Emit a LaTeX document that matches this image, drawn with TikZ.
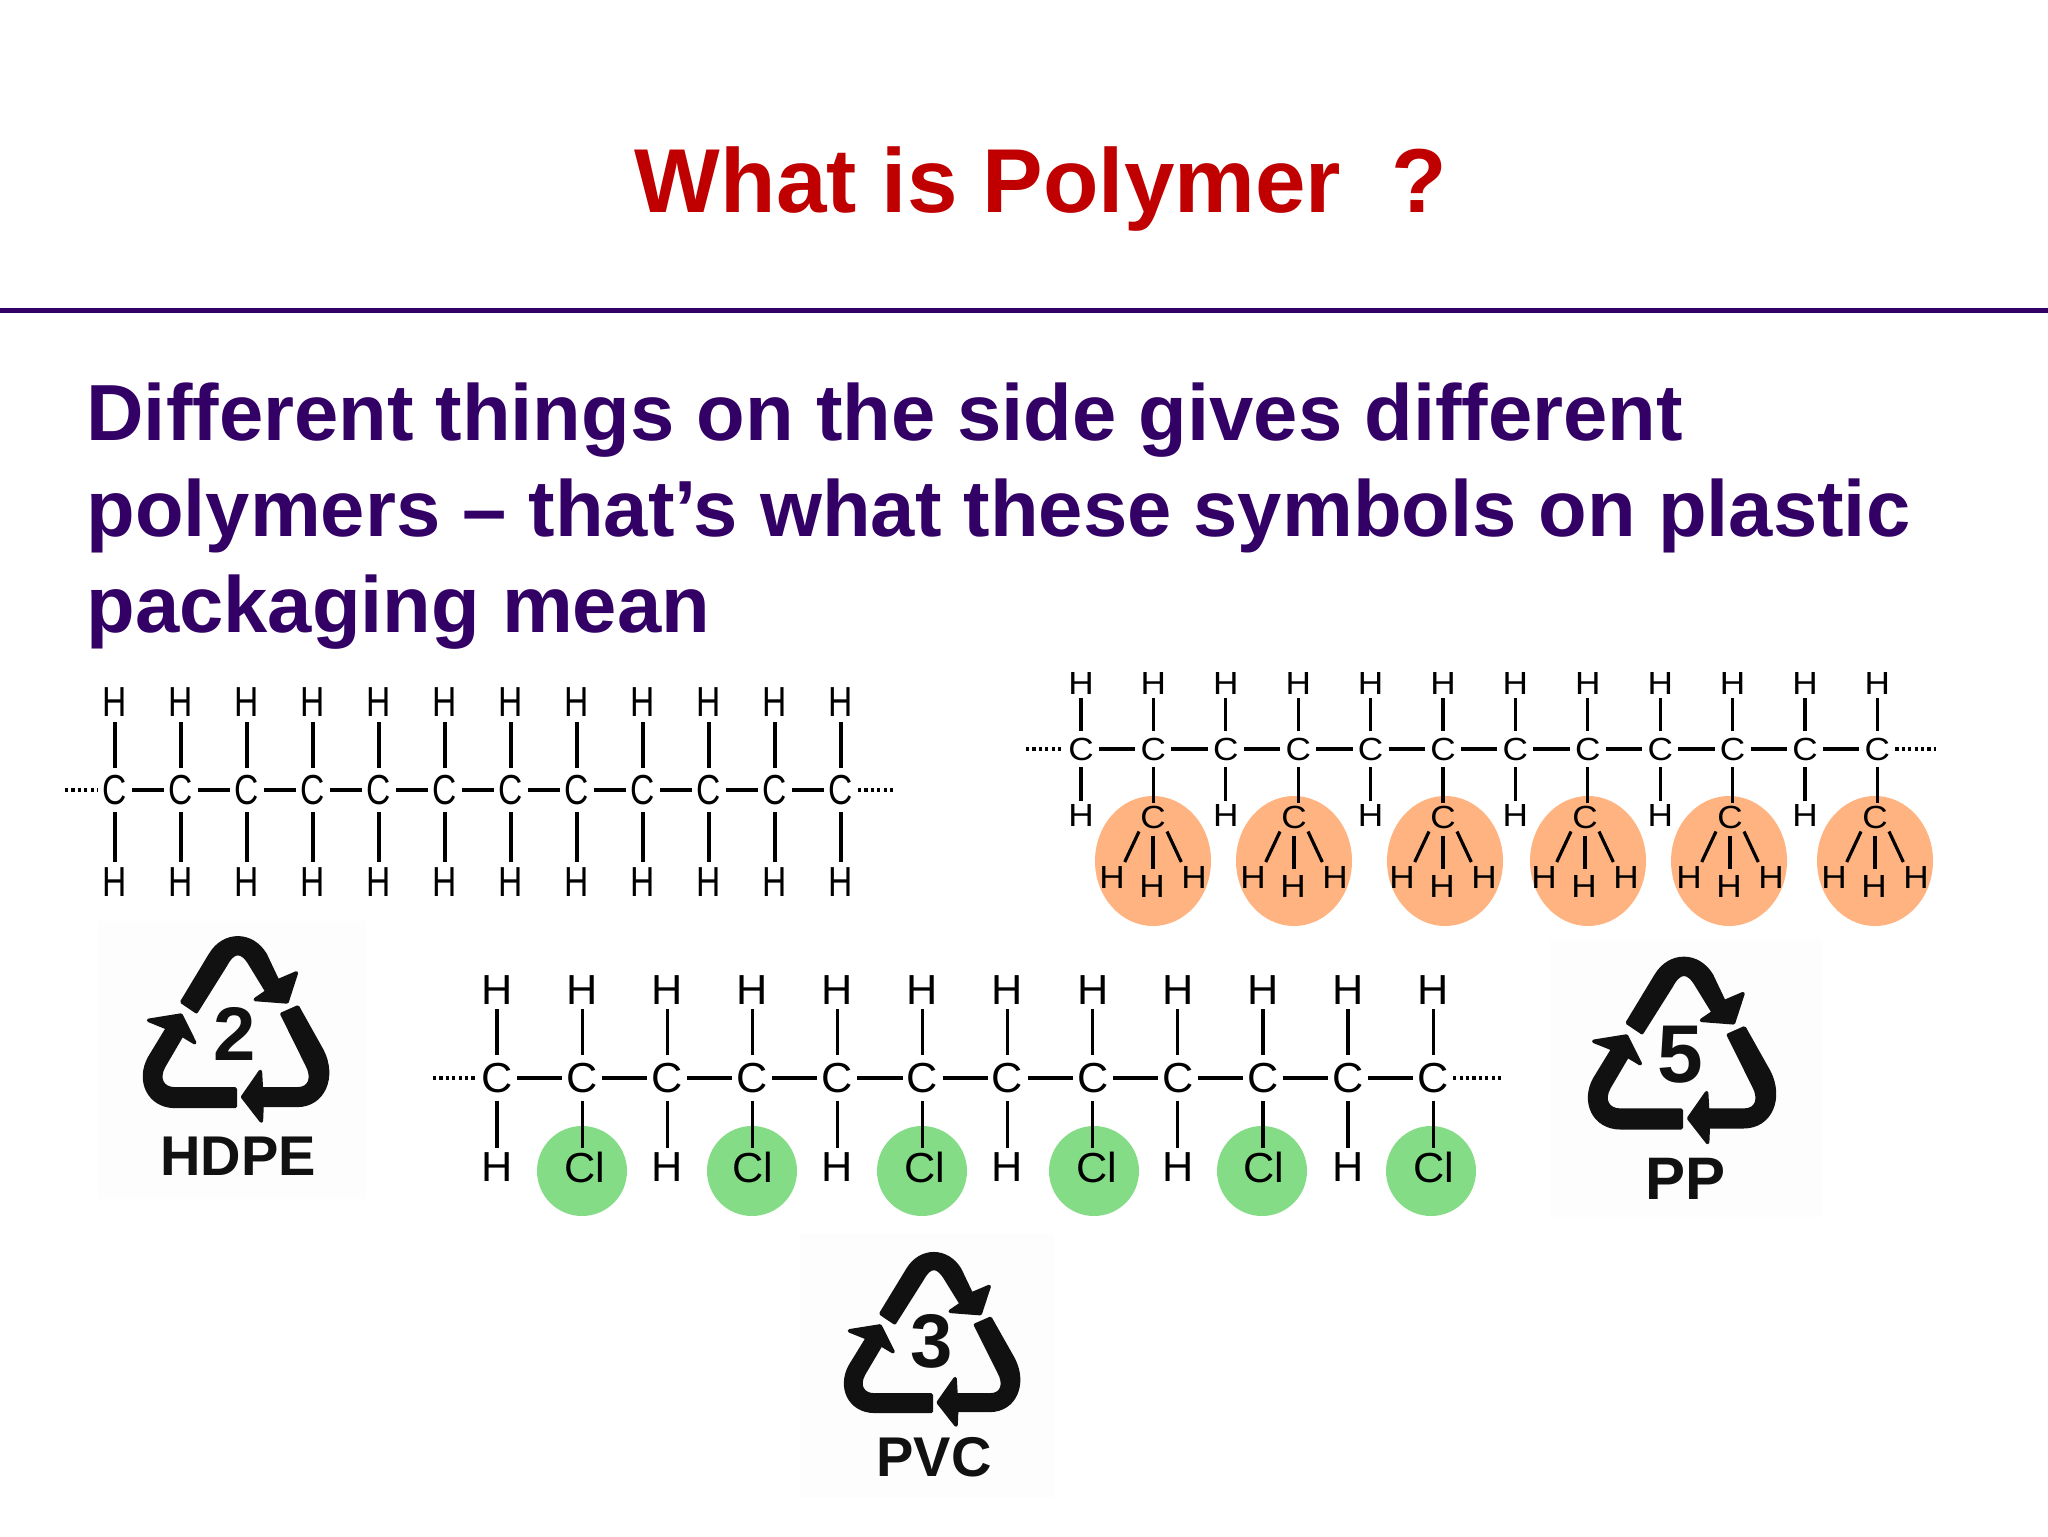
\documentclass[tikz,border=0pt]{standalone}
\usepackage{fontspec}
\setmainfont{Liberation Sans}
\newfontfamily\chemA[FakeStretch=0.80]{Liberation Sans}
\newfontfamily\chemB[FakeStretch=1.10]{Liberation Sans}
\newfontfamily\chemC[FakeStretch=1.03]{Liberation Sans}
\usetikzlibrary{shapes.geometric}
\definecolor{titlered}{HTML}{C00000}
\definecolor{deeppurple}{HTML}{330066}
\definecolor{methylorange}{HTML}{FFB380}
\definecolor{chlorgreen}{HTML}{85DC87}
\definecolor{ink}{HTML}{111111}
\definecolor{paperbox}{HTML}{FDFDFD}
\tikzset{
  titletext/.style={font=\bfseries\fontsize{45.4}{54}\selectfont,text=titlered,inner sep=0pt},
  bodytext/.style={font=\bfseries\fontsize{39.8}{48}\selectfont,text=deeppurple,inner sep=0pt,anchor=base west},
  atom/.style={inner sep=0pt,outer sep=0pt,text=black},
  cA/.style={atom,font=\chemA\fontsize{21}{21}\selectfont,minimum width=17pt,minimum height=22pt},
  hA/.style={atom,font=\chemA\fontsize{21}{21}\selectfont,minimum height=20pt},
  cB/.style={atom,font=\chemB\fontsize{16}{16}\selectfont,minimum width=18pt,minimum height=18pt},
  hB/.style={atom,font=\chemB\fontsize{16}{16}\selectfont,minimum height=14.5pt},
  mC/.style={atom,font=\chemB\fontsize{16}{16}\selectfont,minimum width=14pt,minimum height=14.5pt},
  mH/.style={atom,font=\chemB\fontsize{16}{16}\selectfont,minimum width=8pt,minimum height=15pt},
  cC/.style={atom,font=\chemC\fontsize{21}{21}\selectfont,minimum width=20pt,minimum height=23pt},
  hC/.style={atom,font=\chemC\fontsize{21}{21}\selectfont,minimum height=19pt},
  bond/.style={draw=black,line width=1.6pt},
  dots/.style={draw=black,line width=1.6pt,dash pattern=on 1.6pt off 1.6pt},
  orangeblob/.style={ellipse,fill=methylorange,inner sep=0pt,minimum width=58pt,minimum height=65pt},
  greenblob/.style={circle,fill=chlorgreen,inner sep=0pt,minimum size=45pt},
  arrowshape/.style={fill=ink,draw=ink,line width=1.8pt,line join=round},
  digit/.style={font=\bfseries\fontsize{38}{38}\selectfont,text=ink,inner sep=0pt},
  codelabel/.style={font=\bfseries\fontsize{28}{28}\selectfont,text=ink,inner sep=0pt},
}
\newcommand{\recycling}[4]{%
  \begin{scope}[shift={(#1,#2)},x=#3*0.16667pt,y=-#4*0.16667pt,shift={(-530,-1040)}]
    \path[arrowshape] (365,965) -- (450,830) .. controls (490,765) and (575,765) .. (615,830) -- (652,905)
      -- (708,882) -- (680,965) -- (585,958) -- (620,935) -- (572,860)
      .. controls (545,815) and (520,815) .. (495,860) -- (408,993) -- cycle;
    \path[arrowshape] (265,1018) -- (362,1003) -- (403,1082) -- (365,1060) -- (310,1150)
      .. controls (290,1185) and (305,1215) .. (345,1215) -- (525,1215) -- (525,1265) -- (345,1265)
      .. controls (265,1265) and (230,1190) .. (268,1125) -- (322,1040) -- cycle;
    \path[arrowshape] (712,980) -- (785,1105) .. controls (825,1180) and (790,1262) .. (710,1262)
      -- (605,1262) -- (603,1307) -- (547,1238) -- (600,1165) -- (603,1215) -- (710,1215)
      .. controls (752,1215) and (760,1180) .. (740,1145) -- (665,1000) -- cycle;
  \end{scope}}
\begin{document}
\begin{tikzpicture}[x=0.5pt,y=-0.5pt]
\useasboundingbox (0,0) rectangle (2048,1536);
\fill[white] (0,0) rectangle (2048,1536);

% headings
\node[titletext] (title) at (1041,189) {What is Polymer\ \ ?};
\coordinate (ruleL) at (0,310);
\coordinate (ruleR) at (2048,310);
\draw[deeppurple,line width=2.5pt] (ruleL) -- (ruleR);
\node[bodytext] (line1) at (86,440) {Different things on the side gives different};
\node[bodytext] (line2) at (86,536) {polymers – that’s what these symbols on plastic};
\node[bodytext] (line3) at (86,632) {packaging mean};

% symbol backgrounds
\fill[paperbox] (98,921) rectangle (366,1199);
\fill[paperbox] (1550,940) rectangle (1822,1217);
\fill[paperbox] (800,1234) rectangle (1054,1498);

% chain A: polyethylene
\foreach \i in {1,...,12}{
  \pgfmathsetmacro{\xx}{115+66*(\i-1)}
  \node[cA] (a\i) at (\xx,790) {C};
  \node[hA] (at\i) at (\xx,702) {H};
  \node[hA] (ab\i) at (\xx,882) {H};
  \draw[bond] (a\i.north) -- (at\i.south);
  \draw[bond] (a\i.south) -- (ab\i.north);
}
\foreach \i [remember=\i as \j (initially 1)] in {2,...,12}{
  \draw[bond] (a\j.east) -- (a\i.west);
}
\coordinate (aL) at (65,790);
\coordinate (aR) at (896,790);
\draw[dots] (aL) -- (a1.west);
\draw[dots] (a12.east) -- (aR);

% chain B: polypropylene
\foreach \xe/\n in {1153/1,1294/2,1445/3,1588/4,1729/5,1875/6}{
  \node[orangeblob] (blob\n) at (\xe,861) {};
}
\foreach \i in {1,...,12}{
  \pgfmathsetmacro{\xx}{1081+72.4*(\i-1)}
  \node[cB] (b\i) at (\xx,749) {C};
  \node[hB] (bt\i) at (\xx,683) {H};
  \draw[bond] (b\i.north) -- (bt\i.south);
}
\foreach \i in {1,3,5,7,9,11}{
  \pgfmathsetmacro{\xx}{1081+72.4*(\i-1)}
  \node[hB] (bb\i) at (\xx,815) {H};
  \draw[bond] (b\i.south) -- (bb\i.north);
}
\foreach \i/\xm in {2/1153,4/1294,6/1443,8/1585,10/1730,12/1875}{
  \node[mC] (m\i) at (\xm,817) {C};
  \node[mH] (ml\i) at (\xm-41,877) {H};
  \node[mH,minimum height=17pt] (mc\i) at (\xm-1,886) {H};
  \node[mH] (mr\i) at (\xm+41,877) {H};
  \draw[bond] (b\i.south) -- (b\i.south |- m\i.north);
  \draw[bond] (m\i.south west) -- (ml\i.north east);
  \draw[bond,shorten <=2pt] (m\i.south) -- (m\i.south |- mc\i.north);
  \draw[bond] (m\i.south east) -- (mr\i.north west);
}
\foreach \i [remember=\i as \j (initially 1)] in {2,...,12}{
  \draw[bond] (b\j.east) -- (b\i.west);
}
\coordinate (bL) at (1026,749);
\coordinate (bR) at (1936,749);
\draw[dots] (bL) -- (b1.west);
\draw[dots] (b12.east) -- (bR);

% chain C: PVC
\foreach \i/\xg in {2/582,4/752,6/922,8/1094,10/1262,12/1431}{
  \node[greenblob] (g\i) at (\xg,1171) {};
}
\foreach \i in {1,...,12}{
  \pgfmathsetmacro{\xx}{497+85.1*(\i-1)}
  \node[cC] (c\i) at (\xx,1078) {C};
  \node[hC] (ct\i) at (\xx,990) {H};
  \draw[bond] (c\i.north) -- (ct\i.south);
}
\foreach \i in {1,3,5,7,9,11}{
  \pgfmathsetmacro{\xx}{497+85.1*(\i-1)}
  \node[hC] (cb\i) at (\xx,1167) {H};
  \draw[bond] (c\i.south) -- (cb\i.north);
}
\foreach \i/\xl in {2/585,4/753,6/925,8/1097,10/1264,12/1434}{
  \node[hC] (cl\i) at (\xl,1167) {Cl};
  \draw[bond] (c\i.south) -- (c\i.south |- cl\i.north);
}
\foreach \i [remember=\i as \j (initially 1)] in {2,...,12}{
  \draw[bond] (c\j.east) -- (c\i.west);
}
\coordinate (cL) at (433,1078);
\coordinate (cR) at (1502,1078);
\draw[dots] (cL) -- (c1.west);
\draw[dots] (c12.east) -- (cR);

% recycling codes
\recycling{237}{1028}{1}{1.045}
\node[digit] (d2) at (235,1034) {2};
\node[codelabel] (hdpe) at (238,1156) {HDPE};

\recycling{1683}{1049}{1.01}{1.05}
\node[digit,font=\bfseries\fontsize{41}{41}\selectfont] (d5) at (1680,1055) {5};
\node[codelabel,font=\bfseries\fontsize{30}{30}\selectfont] (pp) at (1685,1179) {PP};

\recycling{933}{1338}{0.945}{0.977}
\node[digit] (d3) at (932,1341) {3};
\node[codelabel] (pvc) at (934,1457) {PVC};
\end{tikzpicture}
\end{document}
